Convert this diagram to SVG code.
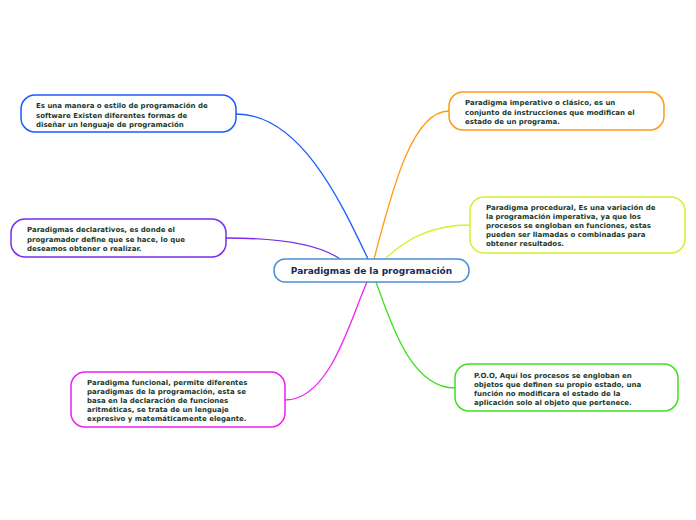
<svg xmlns="http://www.w3.org/2000/svg" width="696" height="520" viewBox="0 0 696 520">
<style>
.n{fill:#fff;stroke-width:1.5}
.t{font-family:"DejaVu Sans",sans-serif;font-weight:bold;font-size:7px;fill:#1a3a2a}
.c{fill:none;stroke-width:1.3}
</style>
<rect width="696" height="520" fill="#fff"/>
<g id="connectors">
<path class="c" stroke="#1a5cff" d="M236,114 C300,114 340,200 368,259"/>
<path class="c" stroke="#7a2cf0" d="M226,238 C280,238 320,245 340,259"/>
<path class="c" stroke="#f020f0" d="M285,400 C330,400 350,320 367,282"/>
<path class="c" stroke="#ff9a10" d="M449,111 C410,111 390,200 374,259"/>
<path class="c" stroke="#d8f030" d="M470,225 C430,225 405,240 385,259"/>
<path class="c" stroke="#40e020" d="M455,388 C410,388 390,320 376,282"/>
</g>
<g id="center"><rect class="n" stroke="#4a90d0" x="274" y="259" width="195" height="23" rx="11"/>
<text x="371.5" y="274" text-anchor="middle" style="font-family:'DejaVu Sans',sans-serif;font-weight:bold;font-size:9px;fill:#1a2a50">Paradigmas de la programación</text></g>
<g id="n1"><rect class="n" stroke="#1a5cff" x="21" y="95" width="215" height="37" rx="14"/>
<text class="t" x="36" y="108">Es una manera o estilo de programación de</text>
<text class="t" x="36" y="117.5">software Existen diferentes formas de</text>
<text class="t" x="36" y="127">diseñar un lenguaje de programación</text></g>
<g id="n2"><rect class="n" stroke="#7a2cf0" x="11" y="219" width="215" height="38" rx="14"/>
<text class="t" x="27" y="232">Paradigmas declarativos, es donde el</text>
<text class="t" x="27" y="241.5">programador define que se hace, lo que</text>
<text class="t" x="27" y="251">deseamos obtener o realizar.</text></g>
<g id="n3"><rect class="n" stroke="#f020f0" x="71" y="372" width="214" height="55" rx="14"/>
<text class="t" x="87" y="385">Paradigma funcional, permite diferentes</text>
<text class="t" x="87" y="394">paradigmas de la programación, esta se</text>
<text class="t" x="87" y="403">basa en la declaración de funciones</text>
<text class="t" x="87" y="412">aritméticas, se trata de un lenguaje</text>
<text class="t" x="87" y="421">expresivo y matemáticamente elegante.</text></g>
<g id="n4"><rect class="n" stroke="#ff9a10" x="449" y="92" width="215" height="38" rx="14"/>
<text class="t" x="465" y="105">Paradigma imperativo o clásico, es un</text>
<text class="t" x="465" y="114.5">conjunto de instrucciones que modifican el</text>
<text class="t" x="465" y="124">estado de un programa.</text></g>
<g id="n5"><rect class="n" stroke="#d8f030" x="470" y="197" width="215" height="56" rx="14"/>
<text class="t" x="486" y="210">Paradigma procedural, Es una variación de</text>
<text class="t" x="486" y="219">la programación imperativa, ya que los</text>
<text class="t" x="486" y="228">procesos se engloban en funciones, estas</text>
<text class="t" x="486" y="237">pueden ser llamadas o combinadas para</text>
<text class="t" x="486" y="246">obtener resultados.</text></g>
<g id="n6"><rect class="n" stroke="#40e020" x="455" y="364" width="223" height="47" rx="14"/>
<text class="t" x="474" y="378">P.O.O, Aquí los procesos se engloban en</text>
<text class="t" x="474" y="387">objetos que definen su propio estado, una</text>
<text class="t" x="474" y="396">función no modificara el estado de la</text>
<text class="t" x="474" y="405">aplicación solo al objeto que pertenece.</text></g>
</svg>
